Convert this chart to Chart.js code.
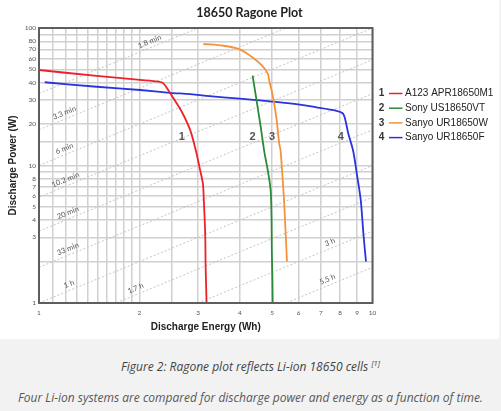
<!DOCTYPE html>
<html>
<head>
<meta charset="utf-8">
<title>18650 Ragone Plot</title>
<script src="https://cdn.jsdelivr.net/npm/chart.js@4.4.1/dist/chart.umd.min.js"></script>
<style>
  body { margin: 0; background: #f2f2f2; width: 501px; height: 411px; overflow: hidden; position: relative; }
  #box { width: 499px; height: 339px; background: #fff; }
  .cap { position: absolute; left: 0; width: 501px; margin: 0; text-align: center; font-family: 'Open Sans', sans-serif; font-style: italic; line-height: 16px; }
  #cap1 { top: 355px; font-size: 12px; color: #444; }
  #cap2 { top: 390px; font-size: 12px; color: #585858; }
  #cap1 sup { font-size: 7.5px; }
</style>
</head>
<body>
<div id="box"><canvas id="chart" width="499" height="339"></canvas></div>
<p class="cap" id="cap1">Figure 2: Ragone plot reflects Li-ion 18650 cells <sup>[1]</sup></p>
<p class="cap" id="cap2">Four Li-ion systems are compared for discharge power and energy as a function of time.</p>
<script>
(function () {
    'use strict';

    var cellNames = ['A123 APR18650M1', 'Sony US18650VT', 'Sanyo UR18650W', 'Sanyo UR18650F'];
    var cellColors = ['#ee2028', '#2a8a38', '#f5923a', '#2a33dd'];

    // discharge energy (Wh) / power (W)
    var a123Energy = [1.00, 1.49, 2.01, 2.28, 2.36, 2.44, 2.53, 2.68, 2.84, 2.95, 3.04, 3.10, 3.12, 3.15, 3.16, 3.18];
    var a123Power  = [49.5, 44.8, 41.9, 40.7, 39.6, 35.4, 30.8, 24.6, 18.1, 13.0, 9.3, 7.4, 5.6, 3.2, 1.84, 1.0];
    var sonyEnergy = [4.37, 4.49, 4.62, 4.74, 4.85, 4.95, 4.98, 4.99, 5.01, 5.02];
    var sonyPower  = [45.0, 29.9, 19.2, 12.5, 9.3, 6.6, 4.2, 2.4, 1.5, 1.0];
    var sanyoWEnergy = [3.11, 3.57, 4.00, 4.34, 4.65, 4.85, 4.91, 4.98, 5.06, 5.16, 5.25, 5.30, 5.35, 5.43, 5.49, 5.54];
    var sanyoWPower  = [76.5, 74.3, 70.0, 61.8, 53.8, 46.8, 40.7, 35.4, 29.1, 21.4, 14.5, 12.9, 9.5, 5.6, 3.2, 2.0];
    var sanyoFEnergy = [1.04, 1.49, 2.01, 2.47, 2.84, 3.57, 4.49, 5.66, 6.79, 7.80, 8.14, 8.27, 8.46, 8.76, 8.98, 9.22, 9.39, 9.56];
    var sanyoFPower  = [40.3, 37.4, 35.4, 33.8, 33.0, 31.3, 29.9, 28.3, 26.5, 25.0, 24.0, 22.0, 17.1, 12.6, 8.6, 5.6, 3.2, 2.0];

    // constant discharge time lines (hours) and their labels
    var timeHours  = [0.03, 0.055, 0.1, 0.17, 0.3, 0.55, 1, 1.7, 3, 5.5];
    var timeLabels = ['1.8 min', '3.3 min', '6 min', '10.2 min', '20 min', '33 min', '1 h', '1.7 h', '3 h', '5.5 h'];
    var timeLabelEnergy = [2.18, 1.21, 1.21, 1.22, 1.24, 1.24, 1.25, 1.98, 7.57, 7.44];

    // curve number tags
    var tagText = ['1', '2', '3', '4'];
    var tagEnergy = [2.68, 4.37, 5.0, 8.03];
    var tagPower = 16;

    var xTicksShown = [1, 2, 3, 4, 5, 6, 7, 8, 9, 10];
    var yTicksShown = [1, 3, 4, 5, 6, 7, 8, 10, 20, 30, 40, 50, 60, 70, 80, 100];

    function points(es, ps) {
        return es.map(function (e, i) { return {x: e, y: ps[i]}; });
    }

    var curves = [
        points(a123Energy, a123Power),
        points(sonyEnergy, sonyPower),
        points(sanyoWEnergy, sanyoWPower),
        points(sanyoFEnergy, sanyoFPower)
    ];

    var datasets = curves.map(function (pts, i) {
        return {
            label: cellNames[i],
            data: pts,
            borderColor: cellColors[i],
            borderWidth: 1.8,
            pointRadius: 0,
            tension: 0.3,
            fill: false
        };
    });

    timeHours.forEach(function (t, i) {
        datasets.push({
            label: timeLabels[i],
            data: [{x: 1, y: 1 / t}, {x: 10, y: 10 / t}],
            borderColor: '#c4c4c4',
            borderWidth: 1,
            borderDash: [2, 2],
            pointRadius: 0,
            fill: false
        });
    });

    var ragoneExtras = {
        id: 'ragoneExtras',
        afterDatasetsDraw: function (chart) {
            var ctx = chart.ctx;
            var area = chart.chartArea;
            var xs = chart.scales.x;
            var ys = chart.scales.y;
            var ang = Math.atan2(ys.getPixelForValue(10) - ys.getPixelForValue(1),
                                 xs.getPixelForValue(10) - xs.getPixelForValue(1));

            ctx.save();
            ctx.font = '7.5px Lato';
            ctx.fillStyle = '#555';
            ctx.textAlign = 'center';
            ctx.textBaseline = 'middle';
            timeHours.forEach(function (t, i) {
                var e = timeLabelEnergy[i];
                var px = xs.getPixelForValue(e) + Math.sin(ang) * 6;
                var py = ys.getPixelForValue(e / t) - Math.cos(ang) * 6;
                ctx.save();
                ctx.translate(px, py);
                ctx.rotate(ang);
                ctx.fillText(timeLabels[i], 0, 0);
                ctx.restore();
            });

            ctx.font = 'bold 11px "Liberation Sans"';
            ctx.fillStyle = '#555';
            tagText.forEach(function (txt, i) {
                ctx.fillText(txt, xs.getPixelForValue(tagEnergy[i]), ys.getPixelForValue(tagPower));
            });

            ctx.strokeStyle = '#5e5e5e';
            ctx.lineWidth = 2;
            ctx.strokeRect(area.left, area.top, area.right - area.left, area.bottom - area.top);
            ctx.restore();
        },
        afterDraw: function (chart) {
            var ctx = chart.ctx;
            var x0 = chart.chartArea.right;
            ctx.save();
            ctx.textBaseline = 'middle';
            cellNames.forEach(function (name, i) {
                var y = 93.5 + i * 14.7;
                ctx.font = 'bold 10px "Liberation Sans"';
                ctx.fillStyle = '#333';
                ctx.textAlign = 'center';
                ctx.fillText(tagText[i], x0 + 9, y);
                ctx.strokeStyle = cellColors[i];
                ctx.lineWidth = 1.5;
                ctx.beginPath();
                ctx.moveTo(x0 + 16.5, y);
                ctx.lineTo(x0 + 30, y);
                ctx.stroke();
                ctx.font = '10px "Liberation Sans"';
                ctx.fillStyle = '#222';
                ctx.textAlign = 'left';
                ctx.fillText(name, x0 + 32.5, y);
            });
            ctx.restore();
        }
    };

    Chart.defaults.font.family = '"Liberation Sans", Arial, sans-serif';

    new Chart(document.getElementById('chart').getContext('2d'), {
        type: 'line',
        data: {datasets: datasets},
        options: {
            responsive: false,
            animation: false,
            layout: {padding: 0},
            plugins: {
                legend: {display: false},
                tooltip: {enabled: false},
                title: {
                    display: true,
                    text: '18650 Ragone Plot',
                    color: '#222',
                    font: {family: 'Lato', size: 12.5, weight: 'bold'},
                    padding: {top: 5, bottom: 8}
                }
            },
            scales: {
                x: {
                    type: 'logarithmic',
                    min: 1,
                    max: 10,
                    afterFit: function (s) { s.height = 36; },
                    grid: {color: '#d0d0d0', lineWidth: 1.5, drawTicks: false},
                    border: {display: false},
                    ticks: {
                        autoSkip: false,
                        maxRotation: 0,
                        padding: 6,
                        color: '#555',
                        font: {family: 'Lato', size: 6.5},
                        callback: function (v) { return xTicksShown.indexOf(v) >= 0 ? String(v) : ''; }
                    },
                    title: {
                        display: true,
                        text: 'Discharge Energy (Wh)',
                        color: '#222',
                        font: {size: 10, weight: 'bold'},
                        padding: {top: 0, bottom: 6}
                    }
                },
                y: {
                    type: 'logarithmic',
                    min: 1,
                    max: 100,
                    afterFit: function (s) { s.width = 39; },
                    grid: {color: '#d0d0d0', lineWidth: 1.5, drawTicks: false},
                    border: {display: false},
                    ticks: {
                        autoSkip: false,
                        padding: 3,
                        color: '#555',
                        font: {family: 'Lato', size: 6.5},
                        callback: function (v) { return yTicksShown.indexOf(v) >= 0 ? String(v) : ''; }
                    },
                    title: {
                        display: true,
                        text: 'Discharge Power (W)',
                        color: '#222',
                        font: {size: 10, weight: 'bold'},
                        padding: {top: 7, bottom: 0}
                    }
                },
                legendSpace: {
                    type: 'linear',
                    position: 'right',
                    afterFit: function (s) { s.width = 126.5; },
                    grid: {display: false, drawTicks: false},
                    border: {display: false},
                    ticks: {display: false}
                }
            }
        },
        plugins: [ragoneExtras]
    });
})();
</script>
</body>
</html>
